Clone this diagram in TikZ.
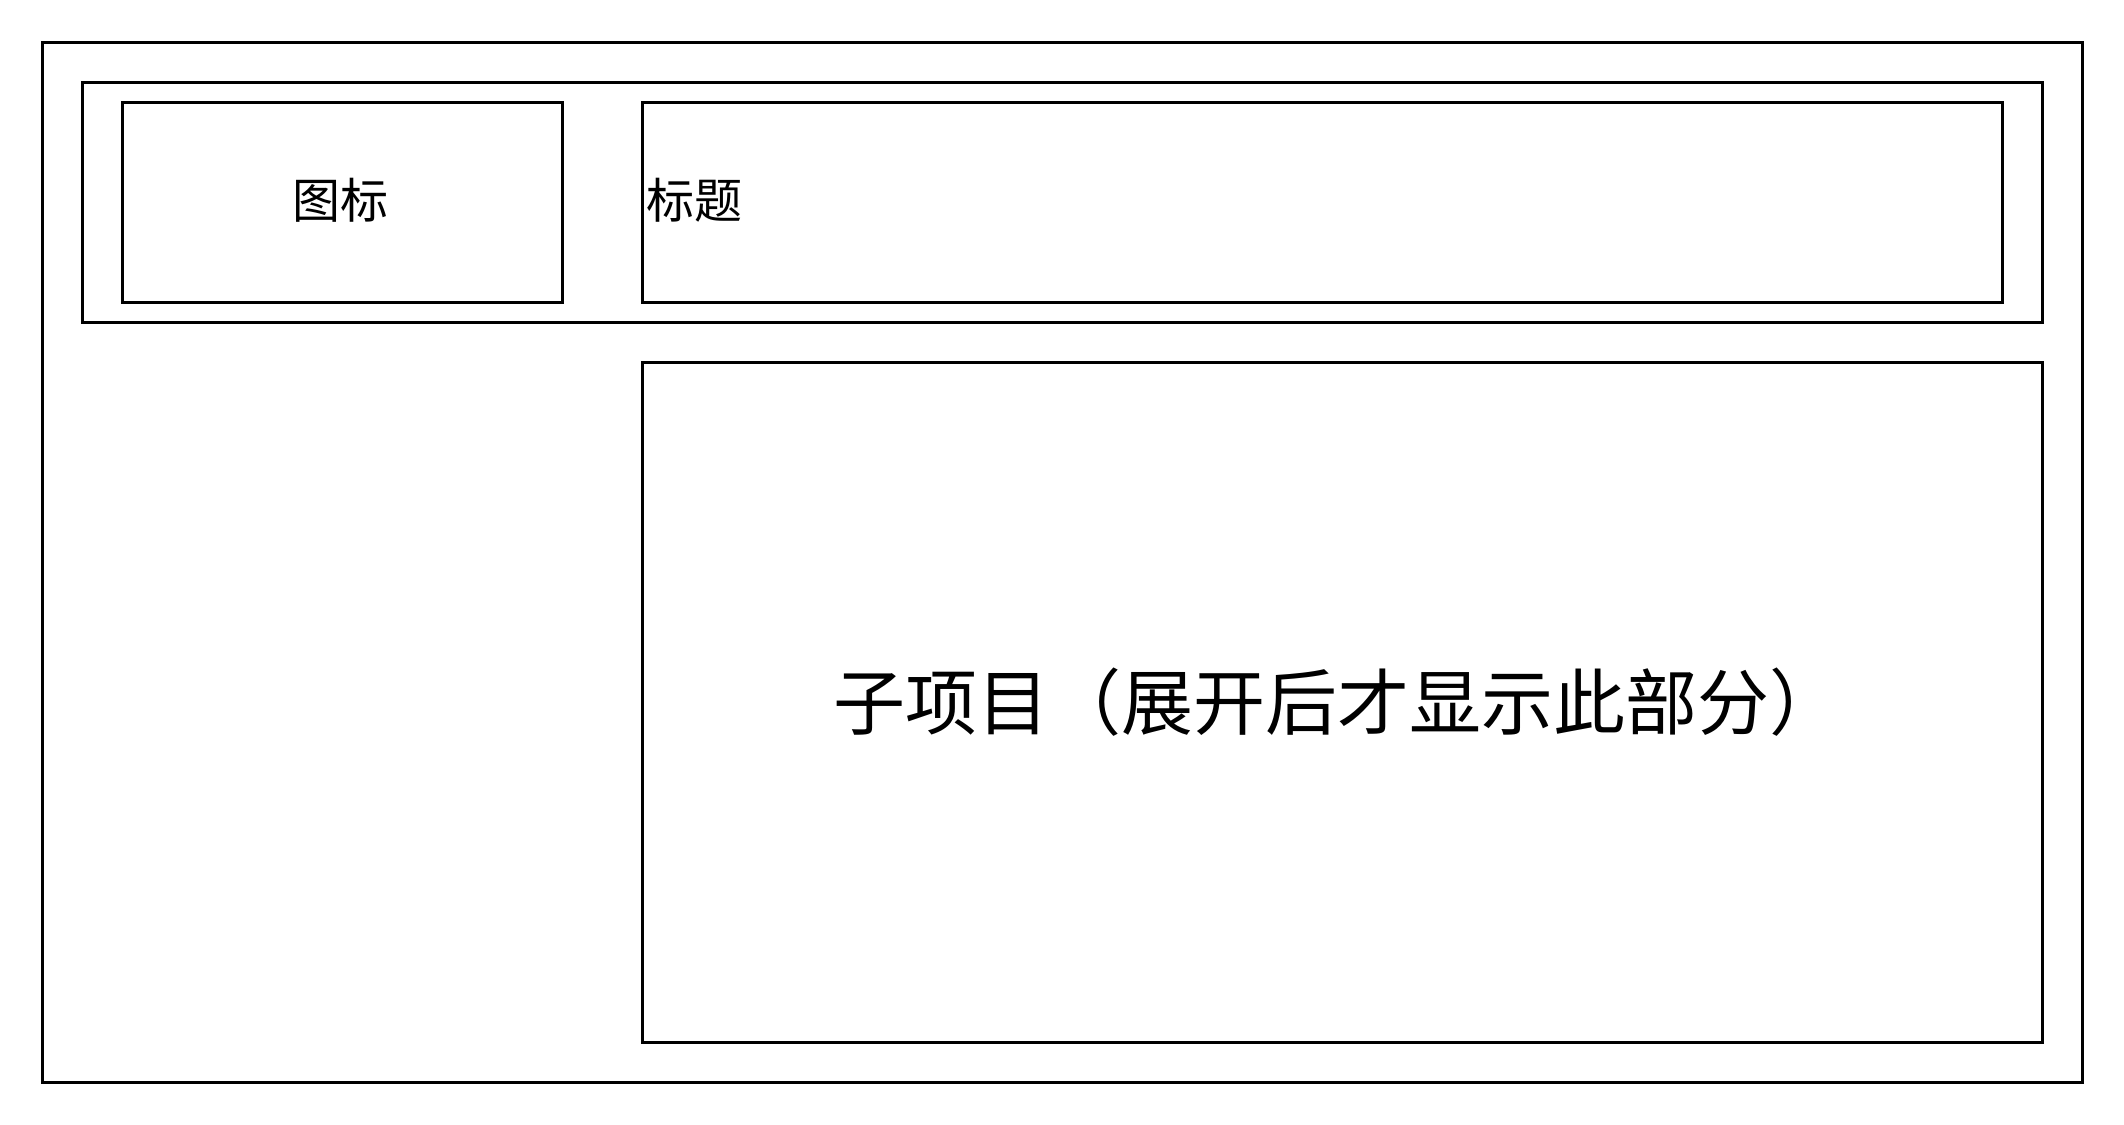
\documentclass[tikz,border=0pt]{standalone}
\usepackage{fontspec}
\setmainfont{Noto Sans CJK SC}
\begin{document}
\begin{tikzpicture}[x=0.5pt,y=-0.5pt,
  box/.style={draw=black, line width=1.6pt, rectangle, inner sep=0pt, anchor=north west},
  lbl/.style={inner sep=0pt, font=\fontsize{24pt}{28pt}\selectfont},
  biglbl/.style={inner sep=0pt, font=\fontsize{36pt}{42pt}\selectfont}]
\useasboundingbox (0,0) rectangle (2124,1124);
\node[box, minimum width=1020pt, minimum height=520pt] (outer) at (41,41) {};
\node[box, minimum width=980pt, minimum height=120pt] (header) at (81,81) {};
\node[box, minimum width=220pt, minimum height=100pt] (icon) at (121,101) {};
\node[box, minimum width=680pt, minimum height=100pt] (title) at (641,101) {};
\node[box, minimum width=700pt, minimum height=340pt] (sub) at (641,361) {};
\node[lbl] (iconlbl) at ([xshift=-1pt,yshift=1pt]icon.center) {图标};
\node[lbl, anchor=west] (titlelbl) at ([xshift=2.5pt,yshift=1pt]title.west) {标题};
\node[biglbl] (sublbl) at ([xshift=-2.5pt]sub.center) {子项目（展开后才显示此部分）};
\end{tikzpicture}
\end{document}
